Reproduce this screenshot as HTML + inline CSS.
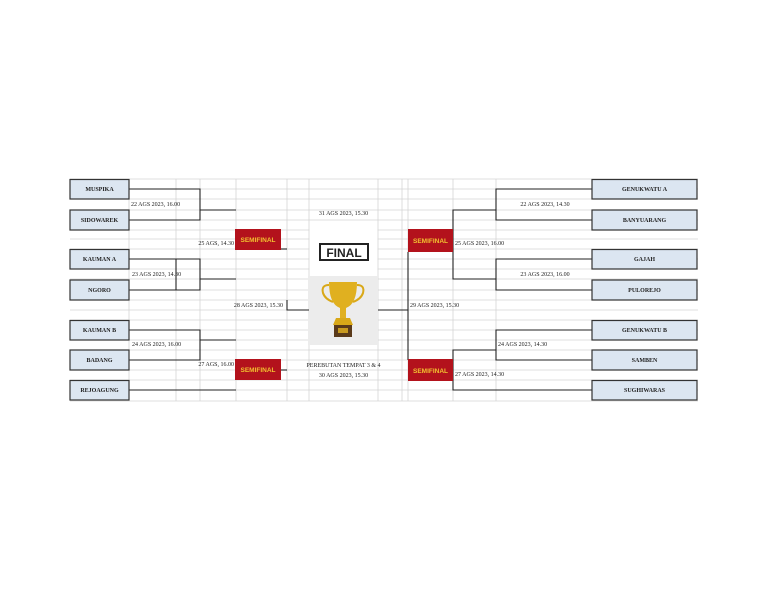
<!DOCTYPE html>
<html><head><meta charset="utf-8"><style>
html,body{margin:0;padding:0;background:#fff;}
svg{display:block;}
.t{font-family:"Liberation Serif",serif;font-size:6px;fill:#222;}
.n{font-family:"Liberation Serif",serif;font-size:6px;font-weight:bold;fill:#222;}
.s{font-family:"Liberation Sans",sans-serif;font-size:6.5px;font-weight:bold;fill:#f2c230;}
</style></head><body>
<svg width="768" height="594" viewBox="0 0 768 594" xmlns="http://www.w3.org/2000/svg">
<g stroke="#d4d4d4" stroke-width="0.8">
<line x1="70" y1="179" x2="698" y2="179"/><line x1="70" y1="189" x2="698" y2="189"/><line x1="70" y1="199" x2="698" y2="199"/><line x1="70" y1="210" x2="698" y2="210"/><line x1="70" y1="220" x2="698" y2="220"/><line x1="70" y1="230" x2="698" y2="230"/><line x1="70" y1="239" x2="698" y2="239"/><line x1="70" y1="249" x2="698" y2="249"/><line x1="70" y1="259" x2="698" y2="259"/><line x1="70" y1="269" x2="698" y2="269"/><line x1="70" y1="279" x2="698" y2="279"/><line x1="70" y1="290" x2="698" y2="290"/><line x1="70" y1="300" x2="698" y2="300"/><line x1="70" y1="310" x2="698" y2="310"/><line x1="70" y1="320" x2="698" y2="320"/><line x1="70" y1="330" x2="698" y2="330"/><line x1="70" y1="340" x2="698" y2="340"/><line x1="70" y1="350" x2="698" y2="350"/><line x1="70" y1="360" x2="698" y2="360"/><line x1="70" y1="370" x2="698" y2="370"/><line x1="70" y1="380" x2="698" y2="380"/><line x1="70" y1="390" x2="698" y2="390"/><line x1="70" y1="401" x2="698" y2="401"/>
<line x1="129" y1="179" x2="129" y2="401"/><line x1="176" y1="179" x2="176" y2="401"/><line x1="200" y1="179" x2="200" y2="401"/><line x1="236" y1="179" x2="236" y2="401"/><line x1="287" y1="179" x2="287" y2="401"/><line x1="309" y1="179" x2="309" y2="401"/><line x1="378" y1="179" x2="378" y2="401"/><line x1="402" y1="179" x2="402" y2="401"/><line x1="408" y1="179" x2="408" y2="401"/><line x1="453" y1="179" x2="453" y2="401"/><line x1="496" y1="179" x2="496" y2="401"/>
</g>
<!-- center images -->
<rect x="309.5" y="228" width="68" height="48" fill="#fff"/>
<rect x="308" y="276" width="70" height="69" fill="#ececec"/>
<rect x="320" y="244" width="48" height="16" fill="#fff" stroke="#222" stroke-width="2"/>
<text x="344" y="257" text-anchor="middle" font-family="Liberation Sans,sans-serif" font-weight="bold" font-size="12" fill="#222">FINAL</text>
<!-- trophy -->
<path d="M329 282 h28 q0 22 -11 26 v10 h-6 v-10 q-11 -4 -11 -26z" fill="#e0b020"/>
<path d="M329 285 q-8 0 -6 8 q2 6 10 9 M357 285 q8 0 6 8 q-2 6 -10 9" fill="none" stroke="#d9a818" stroke-width="2"/>
<path d="M336 318 h14 l3 7 h-20z" fill="#d9a818"/>
<rect x="334" y="325" width="18" height="12" fill="#5a3a1a"/>
<rect x="338" y="328" width="10" height="5" fill="#c89a20"/>
<g stroke="#222" stroke-width="1.1" fill="none">
<polyline points="129,189 200,189 200,220 129,220"/><line x1="200" y1="210" x2="236" y2="210"/>
<polyline points="129,259 200,259 200,290 129,290"/><line x1="176" y1="259" x2="176" y2="290"/><line x1="200" y1="279" x2="236" y2="279"/>
<polyline points="129,330 200,330 200,360 129,360"/><line x1="200" y1="340" x2="236" y2="340"/>
<line x1="129" y1="390" x2="236" y2="390"/>
<line x1="281" y1="249" x2="287" y2="249"/><line x1="281" y1="370" x2="287" y2="370"/>
<polyline points="287,300 287,310 309,310"/>
<line x1="378" y1="310" x2="408" y2="310"/>
<line x1="408" y1="252" x2="408" y2="360"/>
<polyline points="592,189 496,189 496,220 592,220"/><polyline points="496,210 453,210 453,279 496,279"/>
<polyline points="592,259 496,259 496,290 592,290"/>
<polyline points="592,330 496,330 496,360 592,360"/><polyline points="496,350 453,350 453,390 592,390"/>
</g>
<g stroke="#333" stroke-width="1.2" fill="#dce6f1">
<rect x="70" y="179.5" width="59" height="19.5"/><rect x="70" y="210" width="59" height="20"/><rect x="70" y="249.5" width="59" height="19.5"/><rect x="70" y="280" width="59" height="20"/><rect x="70" y="320.5" width="59" height="19.5"/><rect x="70" y="350" width="59" height="20"/><rect x="70" y="380.5" width="59" height="19.5"/>
<rect x="592" y="179.5" width="105" height="19.5"/><rect x="592" y="210" width="105" height="20"/><rect x="592" y="249.5" width="105" height="19.5"/><rect x="592" y="280" width="105" height="20"/><rect x="592" y="320.5" width="105" height="19.5"/><rect x="592" y="350" width="105" height="20"/><rect x="592" y="380.5" width="105" height="19.5"/>
</g>
<g class="n" text-anchor="middle">
<text x="99.5" y="191">MUSPIKA</text><text x="99.5" y="222">SIDOWAREK</text><text x="99.5" y="261">KAUMAN A</text><text x="99.5" y="292">NGORO</text><text x="99.5" y="332">KAUMAN B</text><text x="99.5" y="362">BADANG</text><text x="99.5" y="392">REJOAGUNG</text>
<text x="644.5" y="191">GENUKWATU A</text><text x="644.5" y="222">BANYUARANG</text><text x="644.5" y="261">GAJAH</text><text x="644.5" y="292">PULOREJO</text><text x="644.5" y="332">GENUKWATU B</text><text x="644.5" y="362">SAMBEN</text><text x="644.5" y="392">SUGHIWARAS</text>
</g>
<g fill="#b3121c">
<rect x="235" y="229" width="46" height="21"/><rect x="235" y="359" width="46" height="21"/>
<rect x="408" y="229" width="45" height="23"/><rect x="408" y="359" width="45" height="22"/>
</g>
<g class="s" text-anchor="middle">
<text x="258" y="242">SEMIFINAL</text><text x="258" y="372">SEMIFINAL</text><text x="430.5" y="243">SEMIFINAL</text><text x="430.5" y="373">SEMIFINAL</text>
</g>
<g class="t">
<text x="131" y="206">22 AGS 2023, 16.00</text><text x="132" y="276">23 AGS 2023, 14.30</text><text x="132" y="346">24 AGS 2023, 16.00</text>
<text x="234" y="245" text-anchor="end">25 AGS, 14.30</text><text x="234" y="366" text-anchor="end">27 AGS, 16.00</text>
<text x="283" y="307" text-anchor="end">28 AGS 2023, 15.30</text>
<text x="343.5" y="215" text-anchor="middle">31 AGS 2023, 15.30</text>
<text x="343.5" y="367" text-anchor="middle">PEREBUTAN TEMPAT 3 &amp; 4</text>
<text x="343.5" y="377" text-anchor="middle">30 AGS 2023, 15.30</text>
<text x="545" y="206" text-anchor="middle">22 AGS 2023, 14.30</text><text x="455" y="245">25 AGS 2023, 16.00</text>
<text x="545" y="276" text-anchor="middle">23 AGS 2023, 16.00</text><text x="410" y="307">29 AGS 2023, 15.30</text>
<text x="498" y="346">24 AGS 2023, 14.30</text><text x="455" y="376">27 AGS 2023, 14.30</text>
</g>
</svg>
</body></html>
